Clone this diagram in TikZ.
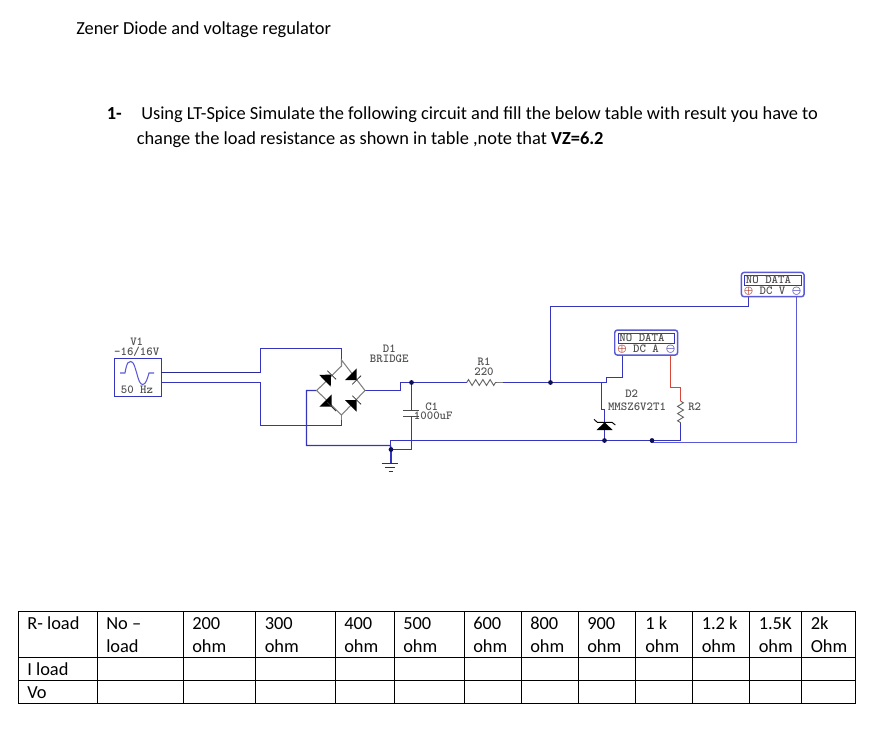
\documentclass[tikz,border=0pt]{standalone}
\usepackage{fontspec}
\setmainfont{Carlito}
\usetikzlibrary{decorations.pathmorphing}
\definecolor{wireblue}{HTML}{3434BC}
\definecolor{pale}{HTML}{5A5AD8}
\definecolor{lead}{HTML}{808080}
\definecolor{junc}{HTML}{10105A}
\definecolor{redw}{HTML}{D84838}
\definecolor{lab}{HTML}{505050}
\tikzset{
  doc/.style={anchor=base west,inner sep=0pt,font=\fontsize{13.8pt}{15pt}\selectfont,text=black},
  docb/.style={doc,font=\fontsize{13.8pt}{15pt}\selectfont\bfseries},
  sch/.style={inner sep=0pt,font=\fontsize{9.2pt}{10pt}\ttfamily\bfseries,text=lab},
  wire/.style={draw=wireblue,line width=1pt,line join=miter},
  palew/.style={draw=pale,line width=1pt},
  leadw/.style={draw=lead,line width=0.8pt},
  redwire/.style={draw=redw,line width=1pt},
  grid/.style={draw=black,line width=0.9pt},
  diode/.style={fill=black,draw=none},
  bar/.style={draw=black!80,line width=0.6pt},
  dot/.style={circle,fill=junc,inner sep=0pt,minimum size=3.6pt},
  meter/.style={draw=pale,line width=1.1pt,rounded corners=2pt,fill=white},
  readout/.style={draw=wireblue,line width=0.7pt,fill=white},
  res/.style={draw=black!60,line width=0.7pt,decorate,decoration={zigzag,segment length=5.4pt,amplitude=2.2pt}},
  plusp/.style={inner sep=0pt,text=redw!80!black,font=\fontsize{7pt}{7pt}\selectfont\boldmath},
  minusp/.style={inner sep=0pt,text=wireblue,font=\fontsize{7pt}{7pt}\selectfont\boldmath},
}
\begin{document}
\begin{tikzpicture}[x=0.75pt,y=-0.75pt]
\useasboundingbox (0,0) rectangle (872,736);
% heading text
\node[doc] (title) at (76,34) {Zener Diode and voltage regulator};
\node[docb] (num) at (106.5,119) {1-};
\node[doc] (l1) at (141,119) {Using LT-Spice Simulate the following circuit and fill the below table with result you have to};
\node[doc] (l2) at (136.5,144) {change the load resistance as shown in table ,note that \textbf{VZ=6.2}};

% coordinates
\coordinate (vt) at (161,372.5);
\coordinate (vb) at (161,382.5);
\coordinate (bT) at (341.5,366);
\coordinate (bL) at (316.7,390.5);
\coordinate (bR) at (365,390.5);
\coordinate (bB) at (341.5,415);
\coordinate (bTs) at (341.5,360);
\coordinate (bBs) at (341.5,425.5);
\coordinate (a1) at (260.5,372.5);
\coordinate (a2) at (260.5,348.5);
\coordinate (a3) at (341.5,348.5);
\coordinate (c1) at (260.5,382.5);
\coordinate (c2) at (260.5,425.5);
\coordinate (d1) at (306.5,390.5);
\coordinate (d2) at (306.5,445.5);
\coordinate (d3) at (390.5,445.5);
\coordinate (d4) at (390.5,440.5);
\coordinate (gj) at (391,449.5);
\coordinate (gnd) at (391,463);
\coordinate (cb) at (411.5,449.5);
\coordinate (e1) at (400.5,390.5);
\coordinate (e2) at (400.5,382.5);
\coordinate (cj) at (411.5,382.5);
\coordinate (cp1) at (411.5,410);
\coordinate (cp2) at (411.5,416);
\coordinate (r1a) at (466.7,382.5);
\coordinate (r1b) at (497,382.5);
\coordinate (r1c) at (503,382.5);
\coordinate (vj) at (550.5,382.5);
\coordinate (v1) at (550.5,306.5);
\coordinate (v2) at (748.5,306.5);
\coordinate (v3) at (748.5,295);
\coordinate (f1) at (601.5,382.5);
\coordinate (f2) at (606.5,382.5);
\coordinate (f3) at (606.5,377.5);
\coordinate (f4) at (622.5,377.5);
\coordinate (f5) at (622.5,354);
\coordinate (z1) at (601.5,409.5);
\coordinate (z2) at (604.5,409.5);
\coordinate (z3) at (604.5,422.3);
\coordinate (zj) at (604.5,440.5);
\coordinate (rj) at (652,440.5);
\coordinate (r2b) at (680.5,440.5);
\coordinate (r2c) at (680.5,423);
\coordinate (r2a) at (680.5,401);
\coordinate (r2t) at (680.5,387.5);
\coordinate (am) at (670.5,354);
\coordinate (amb) at (670.5,387.5);
\coordinate (w1) at (652,442.5);
\coordinate (w2) at (796.5,442.5);
\coordinate (w3) at (796.5,295);

% source
\node[draw=wireblue,line width=0.9pt,minimum width=35.7pt,minimum height=29pt,inner sep=0pt,anchor=north west] (V1) at (113.5,357.5) {};
\draw[pale,line width=0.8pt] (120,373) -- (125,373) .. controls (127,361) and (129,361.5) .. (130.7,361.5)
   .. controls (134,361.5) and (135,368) .. (136.7,373) .. controls (138.5,380) and (140,384.5) .. (142.7,384.5)
   .. controls (146,384.5) and (147.5,378) .. (149,373) -- (154,373);
\node[sch] (tV1) at (136.7,341.5) {V1};
\node[sch] (tV1v) at (136.7,351.5) {-16/16V};
\node[sch] (tV1f) at (137,390) {50 Hz};

% wires
\draw[wire,draw=wireblue!80!black] (vt) -- (a1);
\draw[wire] (a1) -- (a2) -- (a3) -- (bTs);
\draw[wire] (vb) -- (c1) -- (c2) -- (bBs) -- (341.5,420);
\draw[wire] (bL) -- (d1) -- (d2) -- (d3) -- (gj);
\draw[wire] (d3) -- (d4) -- (zj) -- (r2b) -- (r2c);
\draw[wire] (gj) -- (cb) -- (cp2);
\draw[wire] (cp1) -- (cj);
\draw[wire] (bR) -- (e1) -- (e2) -- (r1a);
\draw[wire] (gj) -- (gnd);
\draw[wire] (r1c) -- (f2);
\draw[wire] (vj) -- (v1) -- (v2) -- (v3);
\draw[wire] (f2) -- (f3) -- (f4) -- (f5);
\draw[wire] (f1) -- (z1) -- (z2) -- (z3);
\draw[wire] (z3) -- (zj);
\draw[palew] (rj) -- (w1) -- (w2) -- (w3);
\draw[redwire] (am) -- (amb) -- (r2t) -- (r2a);

% bridge
\draw[leadw] (bTs) -- (bT) -- (bL) -- (bB) -- (bR) -- cycle;
\draw[leadw] (bB) -- (341.5,420);
\draw[diode] (319.3,375) -- (331,374.5) -- (330.7,386.7) -- cycle;
\draw[bar] (327.3,370.7) -- (336,379.3);
\draw[diode] (345,380) -- (356.7,368.3) -- (356.7,380) -- cycle;
\draw[bar] (352.3,384.3) -- (361,375.7);
\draw[diode] (319.3,406.7) -- (331.7,394.3) -- (331.7,406.7) -- cycle;
\draw[bar] (327.3,402.3) -- (336,411);
\draw[diode] (345,400) -- (356.7,411.7) -- (356.7,400) -- cycle;
\draw[bar] (352.3,395.7) -- (361,404.3);
\node[sch] (tD1) at (389.3,349) {D1};
\node[sch] (tBr) at (389.3,358.5) {BRIDGE};

% capacitor
\draw[black!70,line width=0.7pt] (403,410) -- (418.5,410);
\draw[black!70,line width=0.7pt] (403,416) -- (418.5,416);
\node[sch] (tC1) at (431.7,406.5) {C1};
\node[sch] (tCv) at (433.3,416) {1000uF};

% ground
\draw[black!80,line width=0.7pt] (381.7,463) -- (398.3,463);
\draw[black!80,line width=0.7pt] (385,467) -- (395,467);
\draw[black!80,line width=0.7pt] (388.5,471) -- (392.5,471);

% R1
\draw[res] (r1a) -- (r1b);
\draw[leadw] (r1b) -- (r1c);
\node[sch] (tR1) at (484,361.5) {R1};
\node[sch] (tR1v) at (484,371.5) {220};

% R2
\draw[res] (r2a) -- (r2c);
\node[sch,anchor=west] (tR2) at (688,406.7) {R2};

% zener
\draw[diode] (604.5,422.3) -- (596.7,430) -- (612.7,430) -- cycle;
\draw[black,line width=0.7pt] (594,419.3) -- (597.3,422.3) -- (612,422.3) -- (615.3,425);
\node[sch] (tD2) at (631.7,394) {D2};
\node[sch] (tD2v) at (637,406.7) {MMSZ6V2T1};

% junctions
\node[dot] (J1) at (cj) {};
\node[dot] (J2) at (gj) {};
\node[dot] (J3) at (vj) {};
\node[dot] (J4) at (zj) {};
\node[dot] (J5) at (rj) {};

% ammeter
\node[meter,minimum width=47.2pt,minimum height=18.8pt,inner sep=0pt,anchor=north west] (A) at (614,329.3) {};
\node[readout,minimum width=42.4pt,minimum height=8pt,inner sep=0pt,anchor=north west] (Ar) at (617.7,332.7) {};
\node[sch] (tA) at (642,338.2) {NO DATA};
\node[sch] (tAd) at (646,349) {DC A};
\node[plusp] (Ap) at (622,349) {$\oplus$};
\node[minusp] (Am) at (670.5,349) {$\ominus$};

% voltmeter
\node[meter,minimum width=47pt,minimum height=18.2pt,inner sep=0pt,anchor=north west] (Vm) at (740.7,271.7) {};
\node[readout,minimum width=42.8pt,minimum height=8pt,inner sep=0pt,anchor=north west] (Vr) at (743.7,274.7) {};
\node[sch] (tV) at (768.5,280.2) {NO DATA};
\node[sch] (tVd) at (772.5,290.7) {DC V};
\node[plusp] (Vp) at (748.7,290.7) {$\oplus$};
\node[minusp] (Vmn) at (796.5,290.7) {$\ominus$};

% table
\draw[grid] (18.3,611.7) rectangle (855.3,703.3);
\draw[grid] (18.3,657.3) -- (855.3,657.3);
\draw[grid] (18.3,680.3) -- (855.3,680.3);
\foreach \x in {97.5,183.3,255.7,335.7,394.3,464.5,521.5,578.5,635.5,692.5,749.5,801.5}
  \draw[grid] (\x,611.7) -- (\x,703.3);
\node[doc] (h0) at (27,629) {R- load};
\node[doc] (i0) at (27,675.5) {I load};
\node[doc] (o0) at (27,698.5) {Vo};
\node[doc] (h1) at (106,629) {No --};
\node[doc] (g1) at (106,652) {load};
\node[doc] (h2) at (192,629) {200};
\node[doc] (g2) at (192,652) {ohm};
\node[doc] (h3) at (264.5,629) {300};
\node[doc] (g3) at (264.5,652) {ohm};
\node[doc] (h4) at (344,629) {400};
\node[doc] (g4) at (344,652) {ohm};
\node[doc] (h5) at (403,629) {500};
\node[doc] (g5) at (403,652) {ohm};
\node[doc] (h6) at (473,629) {600};
\node[doc] (g6) at (473,652) {ohm};
\node[doc] (h7) at (530,629) {800};
\node[doc] (g7) at (530,652) {ohm};
\node[doc] (h8) at (587,629) {900};
\node[doc] (g8) at (587,652) {ohm};
\node[doc] (h9) at (645,629) {1 k};
\node[doc] (g9) at (645,652) {ohm};
\node[doc] (h10) at (701.5,629) {1.2 k};
\node[doc] (g10) at (701.5,652) {ohm};
\node[doc] (h11) at (758.5,629) {1.5K};
\node[doc] (g11) at (758.5,652) {ohm};
\node[doc] (h12) at (810.5,629) {2k};
\node[doc] (g12) at (810.5,652) {Ohm};
\end{tikzpicture}
\end{document}
